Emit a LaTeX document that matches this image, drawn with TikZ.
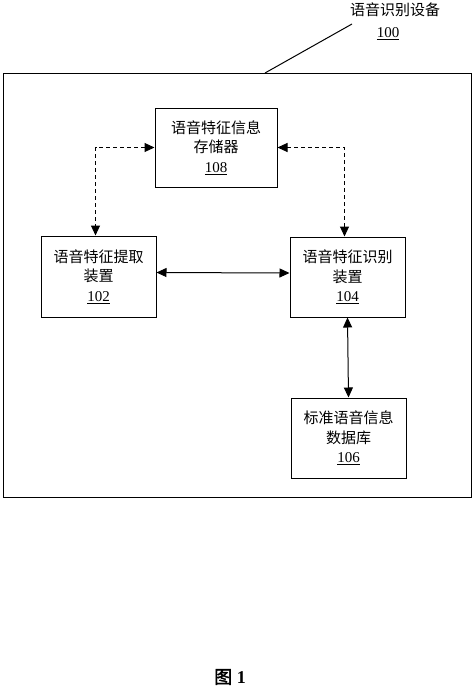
\documentclass[tikz,border=0pt]{standalone}
\usepackage{fontspec}
\setmainfont{Liberation Serif}
\newfontfamily\cjk[AutoFakeBold=2]{Noto Sans CJK SC}
\usepackage{tikz}
\usetikzlibrary{arrows.meta,positioning,calc}

\tikzset{
  unitbox/.style={draw, line width=1pt, align=center, minimum width=115pt, minimum height=80pt, inner sep=2pt,
    font=\fontsize{15}{19.5}\selectfont},
  link/.style={line width=1pt, {Triangle[length=10pt,width=9pt]}-{Triangle[length=10pt,width=9pt]}},
}

\begin{document}
\begin{tikzpicture}[x=1pt, y=-1pt]

\useasboundingbox (0,0) rectangle (474,689);

% Outer device frame
\draw[line width=1pt] (3,73) rectangle (471,497);
\coordinate (tick) at (265,73);

\node (devname) at (395,10) [font=\fontsize{15}{16}\selectfont] {\cjk 语音识别设备};
\node (devnum) at (388,34) [font=\fontsize{15}{16}\selectfont] {\underline{100}};
\coordinate (tip) at (352,24);
\draw[line width=1pt] (tick) -- (tip);

% Units

\node (store) at (216,147.5) [unitbox, minimum width=122pt, minimum height=79pt] {{\cjk 语音特征信息}\\{\cjk 存储器}\\\underline{108}};

\node (extract) at (98.5,276.5) [unitbox, minimum height=81pt] {{\cjk 语音特征提取}\\{\cjk 装置}\\\underline{102}};

\node (recog) at (347.5,277) [unitbox] {{\cjk 语音特征识别}\\{\cjk 装置}\\\underline{104}};

\node (stddb) at (348.5,438) [unitbox] {{\cjk 标准语音信息}\\{\cjk 数据库}\\\underline{106}};

% Connectors
\draw[link, dash pattern=on 4pt off 3pt] (store.west) -| ([xshift=-3pt]extract.north);
\draw[link, dash pattern=on 4pt off 3pt] (store.east) -| ([xshift=-3pt]recog.north);
\draw[link] ([yshift=4pt]extract.east) -- ([yshift=4pt]recog.west);
\draw[link] (recog.south) -- (stddb.north);

% Caption
\node (fig) at (230,677) [font=\fontsize{18}{20}\selectfont\bfseries] {{\cjk\bfseries 图} 1};

\end{tikzpicture}
\end{document}
